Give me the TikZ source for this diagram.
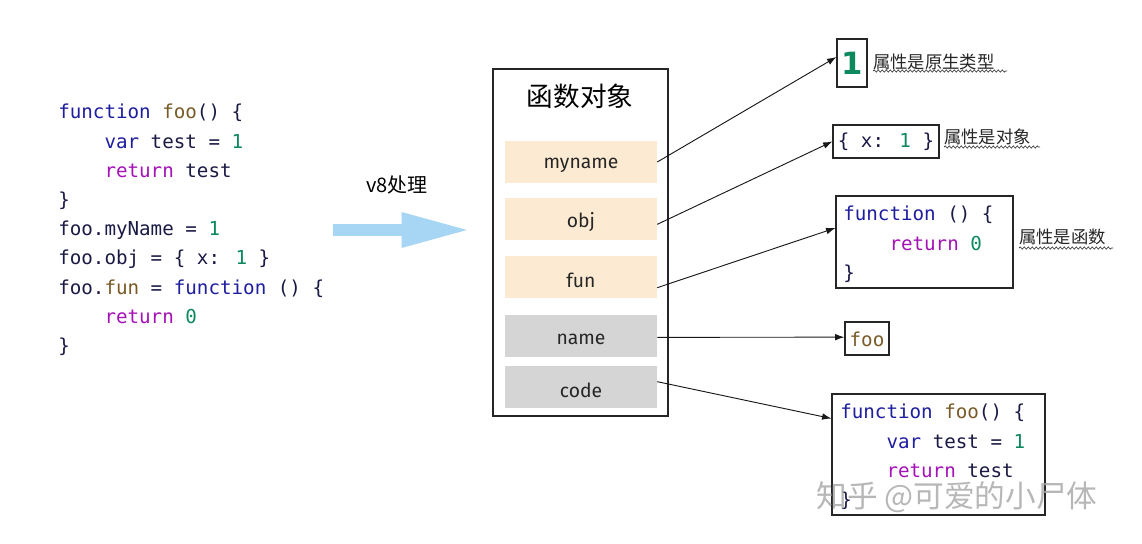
\documentclass[tikz,border=0pt]{standalone}
\usepackage{fontspec}
\setmainfont{DejaVu Sans}
\newfontfamily\codefont{DejaVu Sans Mono}
\newfontfamily\cjk{Noto Sans CJK SC}
\newfontfamily\fieldfont{Fira Sans}
\usetikzlibrary{arrows.meta,decorations.pathmorphing,fit}
\definecolor{ckwc}{HTML}{1E1EA0}
\definecolor{cfnc}{HTML}{7A5A26}
\definecolor{cretc}{HTML}{A412B8}
\definecolor{cnumc}{HTML}{0C8A5E}
\definecolor{cplain}{HTML}{1A1A45}
\definecolor{beige}{HTML}{FCEBD2}
\definecolor{fgray}{HTML}{D5D5D5}
\definecolor{bluearrow}{HTML}{A7D5F4}
\newcommand\ckw[1]{\textcolor{ckwc}{#1}}
\newcommand\cfn[1]{\textcolor{cfnc}{#1}}
\newcommand\cret[1]{\textcolor{cretc}{#1}}
\newcommand\cnum[1]{\textcolor{cnumc}{#1}}
\newcommand\ind{\phantom{xxxx}}
\tikzset{
  code/.style={inner sep=0pt, align=left, text=cplain, font=\codefont\fontsize{14.4}{21.9}\selectfont},
  frame/.style={draw=black!85, line width=0.9pt, inner sep=0pt},
  field/.style={inner sep=0pt},
  fieldtext/.style={inner sep=0pt, yshift=-2.5pt, font=\fieldfont\fontsize{14.5}{17}\selectfont, text=black!85},
  note/.style={inner sep=0pt, font=\cjk\fontsize{13}{15}\selectfont, text=black!85},
  wavy/.style={decorate, decoration={snake, amplitude=0.8pt, segment length=3pt}, line width=0.5pt, black!80},
  link/.style={line width=0.7pt, black!90, -{Latex[length=7pt,width=5pt]}}
}
\begin{document}
\begin{tikzpicture}[x=0.75pt,y=-0.75pt]
\useasboundingbox[fill=white] (0,0) rectangle (1142,543);

% source code
\node[code, anchor=north west] (src) at (58,104) {%
\ckw{function} \cfn{foo}() \{\\
\ind\ckw{var} test = \cnum{1}\\
\ind\cret{return} test\\
\}\\
foo.myName = \cnum{1}\\
foo.obj = \{ x: \cnum{1} \}\\
foo.\cfn{fun} = \ckw{function} () \{\\
\ind\cret{return} \cnum{0}\\
\}};

% v8 arrow
\node[inner sep=0pt, font=\cjk\fontsize{15}{18}\selectfont] (v8) at (397,185) {v8处理};
\coordinate (ba) at (333,230);
\coordinate (bb) at (471,230);
\draw[bluearrow, line width=9pt, -{Triangle[length=52pt,width=24pt]}] (ba) -- (bb);

% function object
\node[frame, fit={(493,69) (668,416)}] (fobj) {};
\node[inner sep=0pt, font=\cjk\fontsize{20}{24}\selectfont] (title) at (580,96) {函数对象};
\node[field, fill=beige, fit={(505,141) (657,183)}] (myname) {};
\node[field, fill=beige, fit={(505,198) (657,240)}] (objf) {};
\node[field, fill=beige, fit={(505,256) (657,298)}] (funf) {};
\node[field, fill=fgray, fit={(505,315) (657,357)}] (namef) {};
\node[field, fill=fgray, fit={(505,366) (657,408)}] (codef) {};
\node[fieldtext] (t1) at (myname.center) {myname};
\node[fieldtext] (t2) at (objf.center) {obj};
\node[fieldtext] (t3) at (funf.center) {fun};
\node[fieldtext] (t4) at (namef.center) {name};
\node[fieldtext] (t5) at (codef.center) {code};

% targets
\node[frame, fit={(837,39) (867,87)}] (one) {};
\node[inner sep=0pt, text=cnumc, font=\fontsize{23}{26}\bfseries\selectfont] (onet) at (852,63) {1};
\node[note, anchor=west] (n1) at (873,62) {属性是原生类型};
\draw[wavy] (873,71) -- (1007,71);

\node[frame, fit={(833,125) (939,158)}] (objbox) {};
\node[code] (objt) at (886,141.5) {\{ x: \cnum{1} \}};
\node[note, anchor=west] (n2) at (944,137) {属性是对象};
\draw[wavy] (944,147) -- (1040,147);

\node[frame, fit={(836,196) (1013,288)}] (fnbox) {};
\node[code, anchor=north west] (fnt) at (843,206) {%
\ckw{function} () \{\\
\ind\cret{return} \cnum{0}\\
\}};
\node[note, anchor=west] (n3) at (1019,237) {属性是函数};
\draw[wavy] (1019,248) -- (1113,248);

\node[frame, fit={(845,322) (889,355)}] (foobox) {};
\node[code] (foot) at (867,339) {\cfn{foo}};

\node[frame, fit={(832,394) (1045,515)}] (codebox) {};
\node[code, anchor=north west] (codet) at (840,404) {%
\ckw{function} \cfn{foo}() \{\\
\ind\ckw{var} test = \cnum{1}\\
\ind\cret{return} test\\
\}};

% connectors
\draw[link] (myname.east) -- ([yshift=4.5pt]one.west);
\draw[link] ([yshift=-4pt]objf.east) -- (objbox.west);
\draw[link] ([yshift=-8pt]funf.east) -- ([yshift=10.5pt]fnbox.west);
\draw[link] ([yshift=-1pt]namef.east) -- ([yshift=1pt]foobox.west);
\draw[link] ([yshift=4pt]codef.east) -- ([yshift=27pt]codebox.west);

% watermark
\node[inner sep=0pt, text=black!35, opacity=0.8, font=\cjk\fontsize{23}{26}\selectfont] (wm) at (957,497) {知乎 @可爱的小尸体};
\end{tikzpicture}
\end{document}
